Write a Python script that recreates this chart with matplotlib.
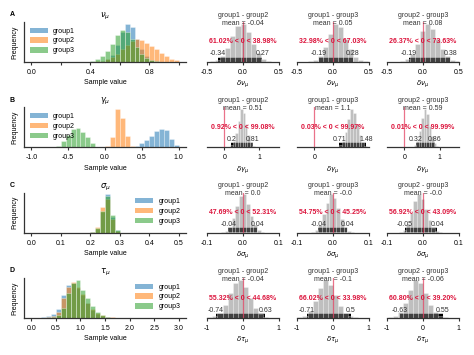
import numpy as np
import matplotlib
matplotlib.use("Agg")
import matplotlib.pyplot as plt
import matplotlib.transforms as mtransforms
from matplotlib.patches import Patch

plt.rcParams["font.family"] = ["Liberation Sans", "DejaVu Sans"]
plt.rcParams["font.size"] = 5
plt.rcParams["mathtext.fontset"] = "dejavusans"

# ---------------- data ----------------
groups = ["group1", "group2", "group3"]
group_colors = ["#1f77b4", "#ff7f0e", "#2ca02c"]
row_letters = ["A", "B", "C", "D"]
titles = [r"$\nu_\mu$", r"$\gamma_\mu$", r"$\sigma_\mu$", r"$\tau_\mu$"]
diff_xlabels = [r"$\delta\nu_\mu$", r"$\delta\gamma_\mu$", r"$\delta\sigma_\mu$", r"$\delta\tau_\mu$"]
pairs = ["group1 - group2", "group1 - group3", "group2 - group3"]

# sample histograms: 30 bins across each range
hist_ranges = [(0.0, 1.0), (-1.0, 1.0), (0.0, 0.5), (0.0, 3.0)]
nu_counts = [
    [0, 0, 0, 0, 0, 0, 0, 0, 0, 0, 0, 0, 0, 0, 3, 8, 22, 50, 90, 115, 105, 70, 40, 18, 7, 2, 0, 0, 0, 0],
    [0, 0, 0, 0, 0, 0, 0, 0, 0, 0, 0, 0, 0, 2, 4, 8, 15, 25, 38, 52, 62, 68, 65, 58, 48, 38, 28, 18, 10, 5],
    [0, 0, 0, 0, 0, 0, 0, 0, 0, 0, 0, 0, 3, 8, 18, 32, 55, 80, 98, 92, 70, 45, 25, 12, 5, 2, 0, 0, 0, 0],
]
gamma_counts = [
    [0, 0, 0, 0, 0, 0, 0, 0, 0, 0, 0, 0, 0, 0, 0, 0, 0, 0, 0, 0, 0, 5, 12, 22, 35, 47, 55, 50, 25, 7],
    [0, 0, 0, 0, 0, 0, 0, 0, 0, 0, 0, 0, 0, 0, 0, 3, 30, 113, 88, 35, 5, 0, 0, 0, 0, 0, 0, 0, 0, 0],
    [0, 0, 0, 0, 0, 4, 18, 38, 55, 57, 45, 30, 12, 0, 0, 0, 0, 0, 0, 0, 0, 0, 0, 0, 0, 0, 0, 0, 0, 0],
]
sigma_counts = [
    [0, 0, 0, 0, 0, 0, 0, 0, 0, 0, 0, 0, 1, 12, 60, 113, 45, 7, 0, 0, 0, 0, 0, 0, 0, 0, 0, 0, 0, 0],
    [0, 0, 0, 0, 0, 0, 0, 0, 0, 0, 0, 0, 2, 18, 75, 100, 40, 5, 0, 0, 0, 0, 0, 0, 0, 0, 0, 0, 0, 0],
    [0, 0, 0, 0, 0, 0, 0, 0, 0, 0, 0, 0, 1, 14, 65, 108, 52, 9, 0, 0, 0, 0, 0, 0, 0, 0, 0, 0, 0, 0],
]
tau_counts = [
    [0, 0, 2, 5, 12, 28, 68, 100, 105, 92, 70, 45, 25, 12, 6, 2, 0, 0, 0, 0, 0, 0, 0, 0, 0, 0, 0, 0, 0, 0],
    [0, 0, 0, 2, 5, 18, 60, 95, 108, 95, 72, 45, 28, 15, 8, 4, 2, 0, 0, 0, 0, 0, 0, 0, 0, 0, 0, 0, 0, 0],
    [0, 0, 0, 0, 3, 8, 30, 75, 105, 115, 85, 60, 35, 18, 8, 3, 0, 0, 0, 0, 0, 0, 0, 0, 0, 0, 0, 0, 0, 0],
]
all_counts = [nu_counts, gamma_counts, sigma_counts, tau_counts]
tick_values = [[0.0, 0.2, 0.4, 0.6, 0.8, 1.0], [-1.0, -0.5, 0.0, 0.5, 1.0],
               [0.0, 0.1, 0.2, 0.3, 0.4, 0.5], [0.0, 0.5, 1.0, 1.5, 2.0, 2.5, 3.0]]
tick_labels = [["0.0", "", "0.4", "", "0.8", ""], ["-1.0", "-0.5", "0.0", "0.5", "1.0"],
               ["0.0", "0.1", "0.2", "0.3", "0.4", "0.5"],
               ["0.0", "0.5", "1.0", "1.5", "2.0", "2.5", "3.0"]]
legend_loc = ["upper left", "upper left", "upper right", "upper right"]

# difference histograms: (first edge, last edge, heights)
diff_bins = [
    [(-0.45, 0.39, [2, 6, 18, 42, 78, 110, 115, 90, 55, 28, 10, 3]),
     (-0.35, 0.49, [2, 6, 18, 45, 85, 115, 105, 70, 38, 15, 5, 2]),
     (-0.32, 0.52, [2, 8, 25, 55, 95, 115, 100, 70, 40, 18, 6, 2])],
    [(0.10, 0.94, [2, 6, 18, 42, 80, 115, 105, 70, 38, 15, 5, 2]),
     (0.62, 1.58, [2, 6, 18, 45, 85, 115, 105, 70, 38, 15, 5, 2]),
     (0.20, 1.04, [2, 6, 20, 50, 90, 115, 100, 65, 35, 14, 5, 2])],
    [(-0.06, 0.06, [2, 6, 18, 45, 80, 110, 115, 85, 50, 22, 8, 2]),
     (-0.06, 0.06, [2, 8, 22, 55, 90, 115, 105, 75, 40, 18, 6, 2]),
     (-0.066, 0.054, [2, 8, 25, 58, 95, 115, 100, 70, 38, 15, 5, 2])],
    [(-0.98, 0.98, [2, 5, 15, 40, 75, 105, 115, 95, 60, 30, 12, 4, 1, 1]),
     (-0.98, 0.98, [2, 6, 20, 50, 90, 115, 100, 70, 35, 15, 5, 2, 1, 1]),
     (-0.98, 0.98, [2, 5, 18, 45, 85, 115, 105, 75, 40, 18, 6, 2, 1, 1])],
]
diff_means = [["-0.04", "0.05", "0.08"], ["0.51", "1.1", "0.59"],
              ["0.0", "-0.0", "-0.0"], ["-0.04", "-0.1", "-0.06"]]
diff_hdi = [[(-0.34, 0.27), (-0.19, 0.28), (-0.19, 0.38)],
            [(0.2, 0.81), (0.71, 1.48), (0.32, 0.86)],
            [(-0.04, 0.04), (-0.04, 0.04), (-0.05, 0.04)],
            [(-0.74, 0.63), (-0.71, 0.5), (-0.63, 0.55)]]
diff_probs = [[("61.02%", "38.98%"), ("32.98%", "67.03%"), ("26.37%", "73.63%")],
              [("0.92%", "99.08%"), ("0.03%", "99.97%"), ("0.01%", "99.99%")],
              [("47.69%", "52.31%"), ("54.75%", "45.25%"), ("56.92%", "43.09%")],
              [("55.32%", "44.68%"), ("66.02%", "33.98%"), ("60.80%", "39.20%")]]
diff_xlims = [(-0.5, 0.5), (-0.5, 1.55), (-0.1, 0.1), (-1.0, 1.0)]
diff_ticks = [[[-0.5, 0.0, 0.5]] * 3, [[0, 1], [0], [0, 1]],
              [[-0.1, 0.0, 0.1]] * 3, [[-1, 0, 1]] * 3]
diff_ticklabels = [[["-0.5", "0.0", "0.5"]] * 3, [["0", "1"], ["0"], ["0", "1"]],
                   [["-0.1", "0.0", "0.1"]] * 3, [["-1", "0", "1"]] * 3]

# ---------------- figure ----------------
fig = plt.figure(figsize=(4.74, 3.55), dpi=100)
row_bottoms = [0.8254, 0.585, 0.3448, 0.1042]
row_h = 0.1127
diff_lefts = [0.436, 0.626, 0.816]
diff_w = 0.152

for r in range(4):
    ax = fig.add_axes([0.0506, row_bottoms[r], 0.342, row_h])
    lo, hi = hist_ranges[r]
    edges = np.linspace(lo, hi, 31)
    for g in range(3):
        ax.bar(edges[:-1], all_counts[r][g], width=np.diff(edges), align="edge",
               color=group_colors[g], alpha=0.55, edgecolor="white", linewidth=0.4,
               label=groups[g])
    pad = 0.05 * (hi - lo)
    ax.set_xlim(lo - pad, hi + pad)
    ax.set_xticks(tick_values[r])
    ax.set_xticklabels(tick_labels[r])
    ax.set_yticks([])
    ax.set_ylabel("Frequency", labelpad=4)
    ax.set_xlabel("Sample value", labelpad=2.5)
    ax.set_title(titles[r], pad=3)
    for s in ["top", "right"]:
        ax.spines[s].set_visible(False)
    for s in ["left", "bottom"]:
        ax.spines[s].set_color("#333333")
        ax.spines[s].set_linewidth(0.9)
    ax.tick_params(axis="x", length=2.5, width=0.8, pad=2.5, color="#333333")
    handles = [Patch(facecolor=group_colors[g], alpha=0.55) for g in range(3)]
    ax.legend(handles, groups, loc=legend_loc[r], frameon=False, handlelength=2.6,
              handleheight=0.8, labelspacing=0.4, handletextpad=0.8,
              borderaxespad=0.4, fontsize=5)
    fig.text(0.021, row_bottoms[r] + row_h + 0.02, row_letters[r], fontweight="bold",
             fontsize=5, ha="left", va="center")

    for c in range(3):
        dax = fig.add_axes([diff_lefts[c], row_bottoms[r], diff_w, row_h])
        b_lo, b_hi, heights = diff_bins[r][c]
        d_edges = np.linspace(b_lo, b_hi, len(heights) + 1)
        trans = mtransforms.blended_transform_factory(dax.transData, dax.transAxes)
        h_lo, h_hi = diff_hdi[r][c]
        dax.plot([h_lo, h_hi], [0.055, 0.055], transform=trans, color="black",
                 lw=3.2, solid_capstyle="butt", zorder=1)
        dax.bar(d_edges[:-1], heights, width=np.diff(d_edges), align="edge",
                color="gray", alpha=0.5, edgecolor="white", linewidth=0.4, zorder=2)
        dax.axvline(0, color="crimson", lw=0.9, alpha=0.6, zorder=3)
        dax.set_ylim(0, max(heights) * 1.05)
        dax.set_xlim(diff_xlims[r])
        dax.set_xticks(diff_ticks[r][c])
        dax.set_xticklabels(diff_ticklabels[r][c])
        dax.set_yticks([])
        for s in ["top", "right", "left"]:
            dax.spines[s].set_visible(False)
        dax.spines["bottom"].set_color("#333333")
        dax.spines["bottom"].set_linewidth(0.9)
        dax.tick_params(axis="x", length=2.5, width=0.8, pad=2.5, color="#333333")
        dax.set_xlabel(diff_xlabels[r], labelpad=2)
        dax.text(0.5, 1.17, pairs[c], transform=dax.transAxes, ha="center", va="center",
                 color="#333333")
        dax.text(0.5, 0.97, "mean = " + diff_means[r][c], transform=dax.transAxes,
                 ha="center", va="center", color="#333333", zorder=4)
        p_lo, p_hi = diff_probs[r][c]
        dax.text(0.5, 0.5, p_lo + " < 0 < " + p_hi, transform=dax.transAxes,
                 ha="center", va="center", color="crimson", fontweight="bold", zorder=4)
        dax.text(h_lo, 0.2, f"{h_lo:g}", transform=trans, ha="center", va="center",
                 color="#333333", zorder=4)
        dax.text(h_hi, 0.2, f"{h_hi:g}", transform=trans, ha="center", va="center",
                 color="#333333", zorder=4)

fig.savefig("out.png", dpi=100)
